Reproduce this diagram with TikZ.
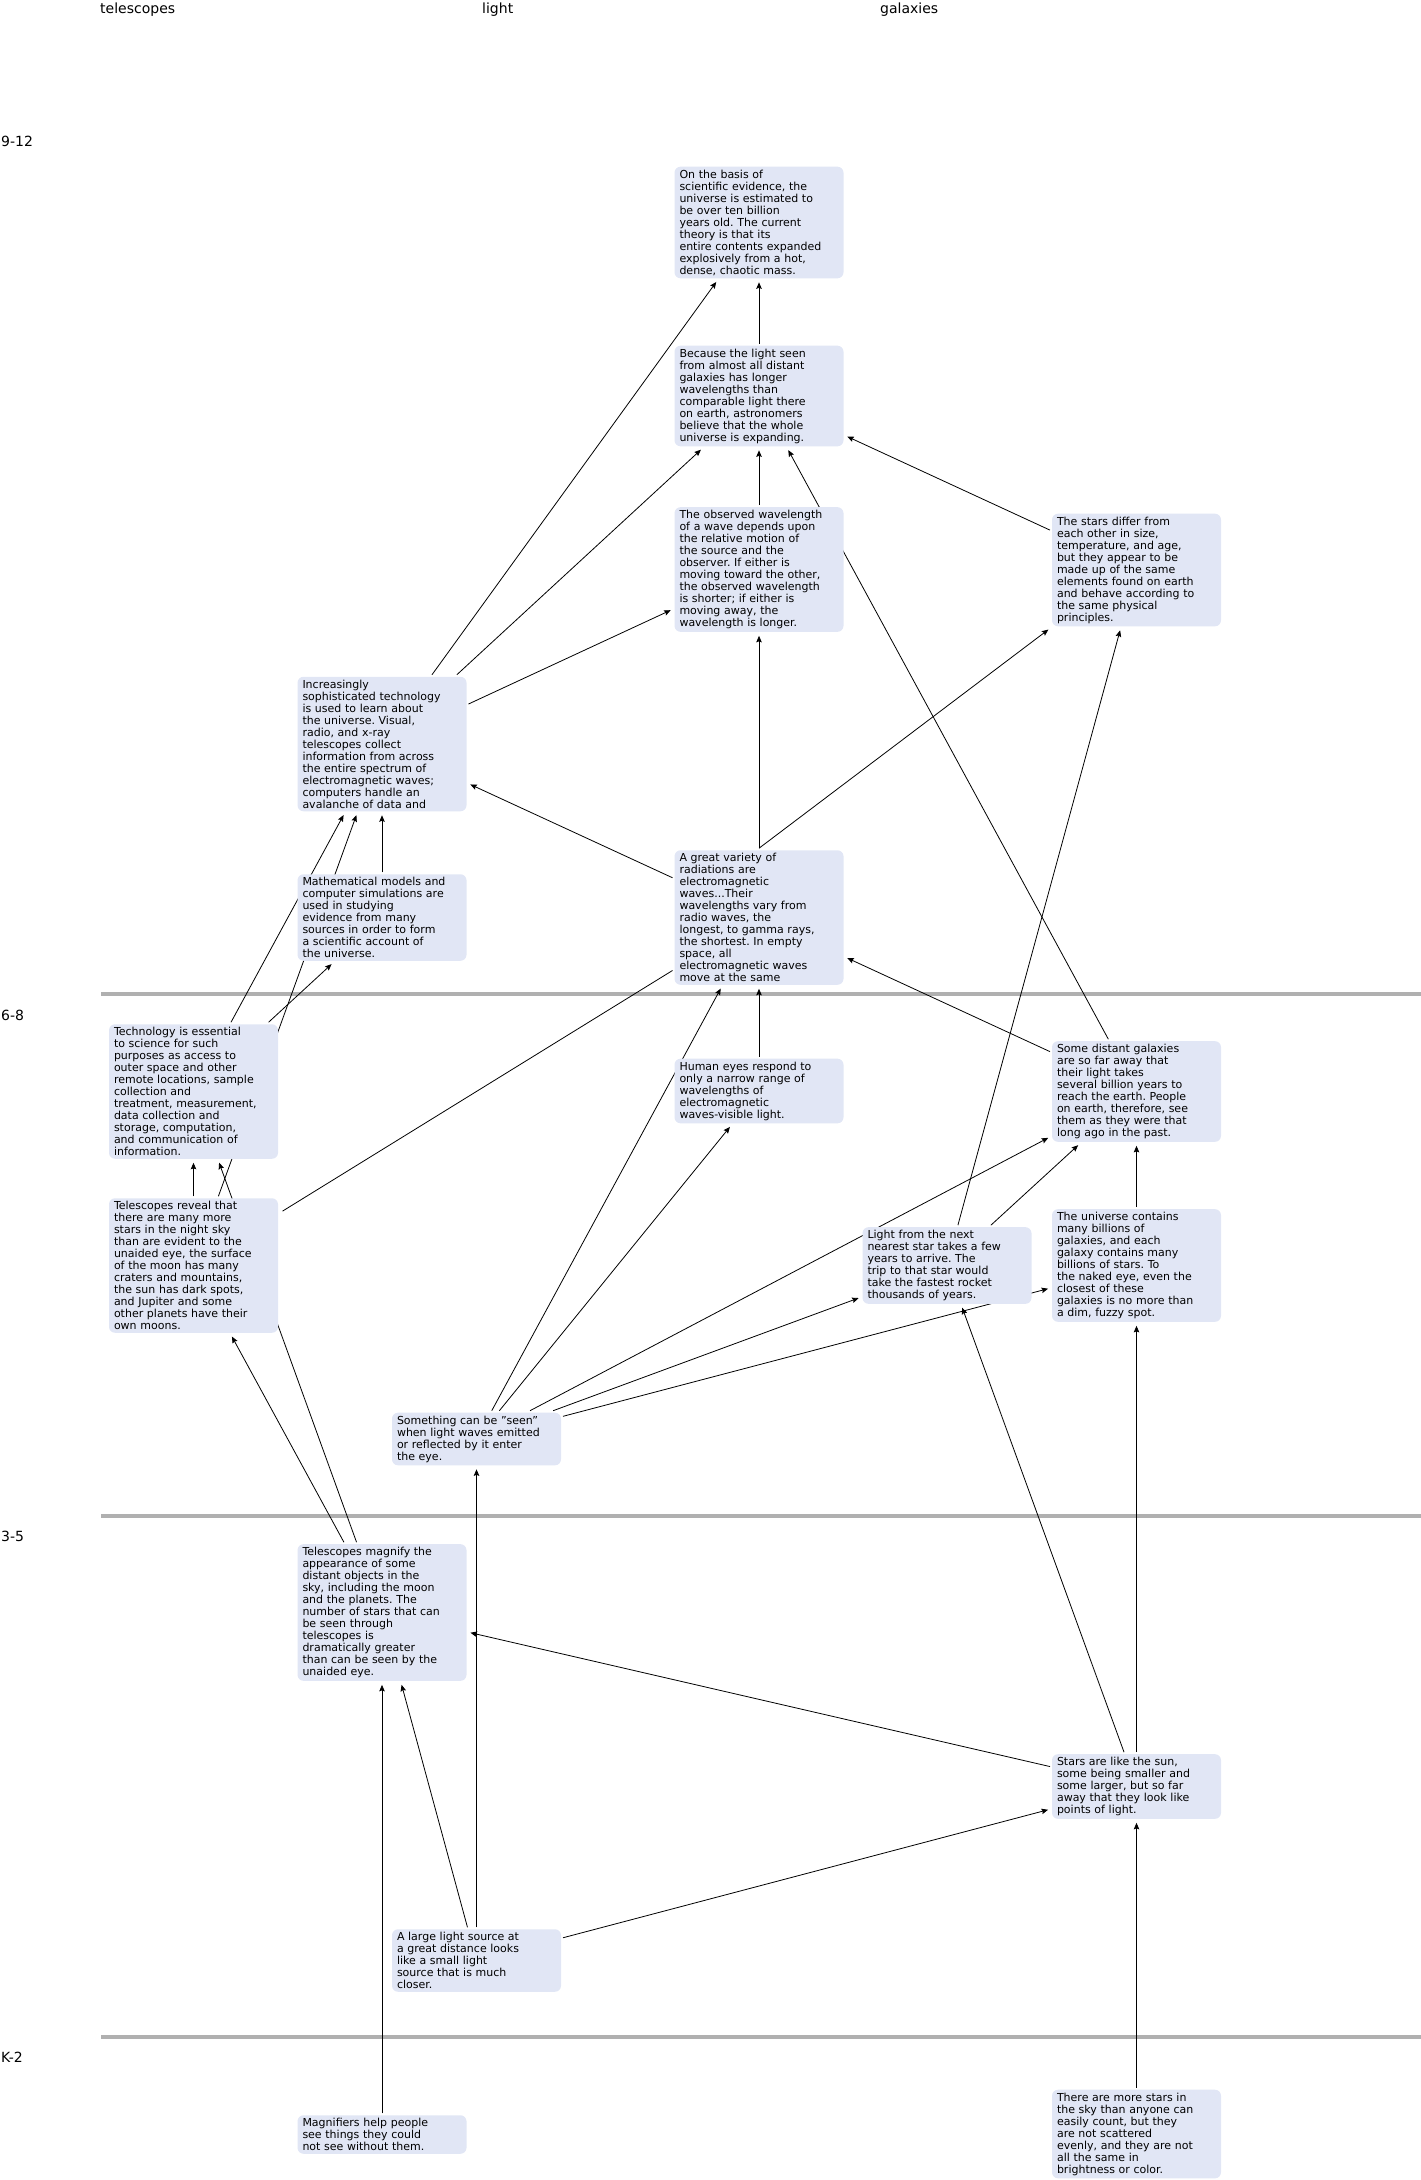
\documentclass[tikz,border=0pt]{standalone}
\usepackage{fontspec}
\setmainfont{DejaVu Sans}
\usetikzlibrary{arrows.meta,backgrounds}
\definecolor{conceptfill}{RGB}{225,230,245}
\definecolor{bandgray}{RGB}{176,176,176}
\newcommand\colorConcept{conceptfill}
\newcommand\colorBand{bandgray}
\newcommand\colorLink{black}
\newcommand\bandWidth{4.5pt}
\newcommand\bandStart{101}
\newcommand\bandEnd{1421}
\newcommand\conceptFont{\fontsize{11}{12}\selectfont\frenchspacing}
\newcommand\headFont{\fontsize{14}{16}\selectfont}
\newcommand\drawBands{
	\foreach \y in {994,1516,2037}{
		\draw[color=\colorBand, line width=\bandWidth] (\bandStart,\y) to (\bandEnd,\y);
	}
}
\tikzset{
	concept/.style={rectangle, rounded corners=6pt, fill=\colorConcept, text width=159pt,
		align=left, inner xsep=5pt, inner ysep=3pt, outer sep=2pt, font=\conceptFont},
	head/.style={anchor=base west, inner sep=0pt, font=\headFont},
	link/.style={color=\colorLink, line width=0.8pt, shorten >=2pt,
		-{Stealth[length=6.5pt,width=5.5pt,inset=1pt]}},
	plainlink/.style={color=\colorLink, line width=0.8pt, shorten >=3pt}
}

\begin{document}
\begin{tikzpicture}[x=1pt, y=-1pt]
	\useasboundingbox (0,0) rectangle (1421,2180);

	% column and grade headers
	\node[head] (hTelescopes) at (100,13) {telescopes};
	\node[head] (hLight) at (482,13) {light};
	\node[head] (hGalaxies) at (880,13) {galaxies};
	\node[head] (g912) at (1,146) {9-12};
	\node[head] (g68) at (1,1020) {6-8};
	\node[head] (g35) at (1,1541) {3-5};
	\node[head] (gK2) at (1,2062) {K-2};

	% 9-12
	\node[concept] (age) at (759,222.5) {On the basis of\\ scientific evidence, the\\ universe is estimated to\\ be over ten billion\\ years old. The current\\ theory is that its\\ entire contents expanded\\ explosively from a hot,\\ dense, chaotic mass.};
	\node[concept] (expand) at (759,396) {Because the light seen\\ from almost all distant\\ galaxies has longer\\ wavelengths than\\ comparable light there\\ on earth, astronomers\\ believe that the whole\\ universe is expanding.};
	\node[concept] (doppler) at (759,569.5) {The observed wavelength\\ of a wave depends upon\\ the relative motion of\\ the source and the\\ observer. If either is\\ moving toward the other,\\ the observed wavelength\\ is shorter; if either is\\ moving away, the\\ wavelength is longer.};
	\node[concept] (starsDiffer) at (1136.5,570) {The stars differ from\\ each other in size,\\ temperature, and age,\\ but they appear to be\\ made up of the same\\ elements found on earth\\ and behave according to\\ the same physical\\ principles.};
	\node[concept] (techSoph) at (382,744) {Increasingly\\ sophisticated technology\\ is used to learn about\\ the universe. Visual,\\ radio, and x-ray\\ telescopes collect\\ information from across\\ the entire spectrum of\\ electromagnetic waves;\\ computers handle an\\ avalanche of data and};
	\node[concept] (mathModels) at (382,917.5) {Mathematical models and\\ computer simulations are\\ used in studying\\ evidence from many\\ sources in order to form\\ a scientific account of\\ the universe.};
	\node[concept] (radiation) at (759,917.5) {A great variety of\\ radiations are\\ electromagnetic\\ waves...Their\\ wavelengths vary from\\ radio waves, the\\ longest, to gamma rays,\\ the shortest. In empty\\ space, all\\ electromagnetic waves\\ move at the same};

	% 6-8
	\node[concept] (eyes) at (759,1091) {Human eyes respond to\\ only a narrow range of\\ wavelengths of\\ electromagnetic\\ waves-visible light.};
	\node[concept] (farAway) at (1136.5,1091.5) {Some distant galaxies\\ are so far away that\\ their light takes\\ several billion years to\\ reach the earth. People\\ on earth, therefore, see\\ them as they were that\\ long ago in the past.};
	\node[concept] (techEssential) at (193.5,1091.5) {Technology is essential\\ to science for such\\ purposes as access to\\ outer space and other\\ remote locations, sample\\ collection and\\ treatment, measurement,\\ data collection and\\ storage, computation,\\ and communication of\\ information.};
	\node[concept] (reveal) at (193.5,1265.5) {Telescopes reveal that\\ there are many more\\ stars in the night sky\\ than are evident to the\\ unaided eye, the surface\\ of the moon has many\\ craters and mountains,\\ the sun has dark spots,\\ and Jupiter and some\\ other planets have their\\ own moons.};
	\node[concept] (nextStar) at (947,1265.5) {Light from the next\\ nearest star takes a few\\ years to arrive. The\\ trip to that star would\\ take the fastest rocket\\ thousands of years.};
	\node[concept] (billions) at (1136.5,1265.5) {The universe contains\\ many billions of\\ galaxies, and each\\ galaxy contains many\\ billions of stars. To\\ the naked eye, even the\\ closest of these\\ galaxies is no more than\\ a dim, fuzzy spot.};
	\node[concept] (seen) at (476.5,1439) {Something can be "seen"\\ when light waves emitted\\ or reflected by it enter\\ the eye.};

	% 3-5
	\node[concept] (magnify) at (382,1612.5) {Telescopes magnify the\\ appearance of some\\ distant objects in the\\ sky, including the moon\\ and the planets. The\\ number of stars that can\\ be seen through\\ telescopes is\\ dramatically greater\\ than can be seen by the\\ unaided eye.};
	\node[concept] (starsSun) at (1136.5,1786.5) {Stars are like the sun,\\ some being smaller and\\ some larger, but so far\\ away that they look like\\ points of light.};
	\node[concept] (largeLight) at (476.5,1960.5) {A large light source at\\ a great distance looks\\ like a small light\\ source that is much\\ closer.};

	% K-2
	\node[concept] (magnifiers) at (382,2134.5) {Magnifiers help people\\ see things they could\\ not see without them.};
	\node[concept] (moreStars) at (1136.5,2134) {There are more stars in\\ the sky than anyone can\\ easily count, but they\\ are not scattered\\ evenly, and they are not\\ all the same in\\ brightness or color.};

	\begin{scope}[on background layer]
		\drawBands

		\draw[link] (expand) to (age);
		\draw[link] (techSoph) to (age);
		\draw[link] (techSoph) to (expand);
		\draw[link] (doppler) to (expand);
		\draw[link] (farAway) to (expand);
		\draw[link] (starsDiffer) to (expand);
		\draw[link] (techSoph) to (doppler);
		\draw[link] (radiation) to (doppler);
		\draw[link] (radiation.north) to (starsDiffer.south west);
		\draw[link] (radiation) to (techSoph);
		\draw[link] (mathModels) to (techSoph);
		\draw[link] (techEssential) to (techSoph);
		\draw[link] (reveal) to (techSoph);
		\draw[link] (techEssential) to (mathModels);
		\draw[link] (reveal) to (techEssential);
		\draw[link] (magnify) to (techEssential);
		\draw[link] (magnify) to (reveal);
		\draw[plainlink] (radiation) to (reveal);
		\draw[link] (seen) to (radiation);
		\draw[link] (eyes) to (radiation);
		\draw[link] (farAway) to (radiation);
		\draw[link] (seen) to (eyes);
		\draw[link] (seen) to (farAway);
		\draw[link] (seen) to (nextStar);
		\draw[link] (seen) to (billions);
		\draw[link] (nextStar) to (starsDiffer);
		\draw[link] (nextStar) to (farAway);
		\draw[link] (billions) to (farAway);
		\draw[link] (starsSun) to (nextStar);
		\draw[link] (starsSun) to (billions);
		\draw[link] (starsSun) to (magnify);
		\draw[link] (largeLight) to (starsSun);
		\draw[link] (largeLight) to (magnify);
		\draw[link] (largeLight) to (seen);
		\draw[link] (magnifiers) to (magnify);
		\draw[link] (moreStars) to (starsSun);
	\end{scope}
\end{tikzpicture}
\end{document}
